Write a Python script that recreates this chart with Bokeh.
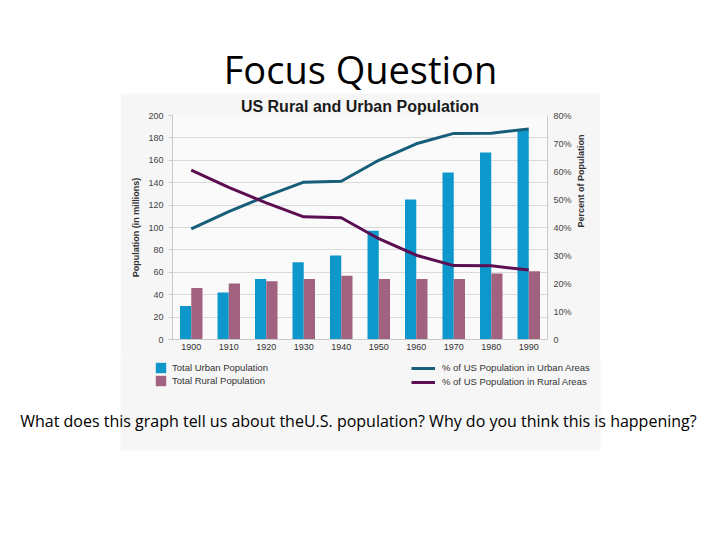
import math
from bokeh.plotting import figure
from bokeh.models import (Range1d, LinearAxis, Label, BoxAnnotation, Legend, LegendItem,
                          FixedTicker, ColumnDataSource, Spacer)
from bokeh.layouts import column, row
from bokeh.transform import dodge
from bokeh.embed import file_html
from bokeh.resources import INLINE

years = ["1900", "1910", "1920", "1930", "1940", "1950", "1960", "1970", "1980", "1990"]
urban_pop = [30, 42, 54, 69, 75, 97, 125, 149, 167, 187]
rural_pop = [46, 50, 52, 54, 57, 54, 54, 54, 59, 61]
urban_pct = [39.5, 45.7, 51.2, 56.2, 56.5, 64.0, 69.9, 73.6, 73.7, 75.2]
rural_pct = [60.5, 54.3, 48.8, 43.8, 43.5, 36.0, 30.1, 26.4, 26.3, 24.8]
left_ticks = [0, 20, 40, 60, 80, 100, 120, 140, 160, 180, 200]
right_ticks = [0, 10, 20, 30, 40, 50, 60, 70, 80]

URBAN_BAR = "#0e97cb"
RURAL_BAR = "#a0627f"
URBAN_LINE = "#175e7b"
RURAL_LINE = "#5b0f52"
IMG_BG = "#f6f6f6"
AXIS_FONT = "Liberation Sans"
SLIDE_FONT = "Open Sans"


def blank(width, height):
    f = figure(width=width, height=height, output_backend="svg", toolbar_location=None,
               x_axis_location=None, y_axis_location=None,
               x_range=Range1d(0, 1), y_range=Range1d(0, 1),
               min_border=0, min_border_left=0, min_border_right=0,
               min_border_top=0, min_border_bottom=0)
    f.grid.grid_line_color = None
    f.outline_line_color = None
    f.background_fill_color = "white"
    f.border_fill_color = "white"
    return f


# ---------- top: slide title ----------
top = blank(720, 93)
top.add_layout(Label(x=360, y=25, x_units="screen", y_units="screen",
                     text="Focus Question", text_align="center", text_baseline="middle",
                     text_font=SLIDE_FONT, text_font_size="38px", text_color="black"))

# ---------- middle: chart ----------
src = ColumnDataSource(dict(year=years, urban=urban_pop, rural=rural_pop,
                            upct=urban_pct, rpct=rural_pct))

p = figure(width=480, height=265, x_range=years, y_range=Range1d(0, 200),
           output_backend="svg", toolbar_location=None,
           title="US Rural and Urban Population",
           min_border_left=52, min_border_right=53, min_border_top=22, min_border_bottom=19)
p.background_fill_color = "#fafafa"
p.border_fill_color = IMG_BG
p.outline_line_color = None
p.title.align = "center"
p.title.text_font = AXIS_FONT
p.title.text_font_style = "bold"
p.title.text_font_size = "16px"
p.title.text_color = "#1a1a1a"
p.title.standoff = 2
p.title.offset = 2

p.extra_y_ranges = {"pct": Range1d(0, 80)}

p.xgrid.grid_line_color = None
p.ygrid.grid_line_color = "#dadada"
p.ygrid.ticker = FixedTicker(ticks=left_ticks)

ya = p.yaxis[0]
ya.ticker = FixedTicker(ticks=left_ticks)
ya.axis_label = "Population (in millions)"
ya.axis_label_text_font = AXIS_FONT
ya.axis_label_text_font_style = "bold"
ya.axis_label_text_font_size = "9px"
ya.axis_label_text_color = "#333333"
ya.axis_label_standoff = 4
ya.major_label_text_font = AXIS_FONT
ya.major_label_text_font_size = "9px"
ya.major_label_text_color = "#444444"
ya.major_label_standoff = 5
ya.axis_line_color = "#c8c8c8"
ya.major_tick_line_color = "#c8c8c8"
ya.major_tick_out = 4
ya.major_tick_in = 0
ya.minor_tick_line_color = None

ra = LinearAxis(y_range_name="pct", ticker=FixedTicker(ticks=right_ticks))
ra.major_label_overrides = {t: (f"{t}%" if t else "0") for t in right_ticks}
ra.axis_label = "Percent of Population"
ra.axis_label_text_font = AXIS_FONT
ra.axis_label_text_font_style = "bold"
ra.axis_label_text_font_size = "9px"
ra.axis_label_text_color = "#333333"
ra.axis_label_standoff = 6
if "axis_label_orientation" in ra.properties():
    ra.axis_label_orientation = math.pi / 2
ra.major_label_text_font = AXIS_FONT
ra.major_label_text_font_size = "9px"
ra.major_label_text_color = "#444444"
ra.major_label_standoff = 6
ra.axis_line_color = "#c8c8c8"
ra.major_tick_line_color = None
ra.major_tick_out = 0
ra.major_tick_in = 0
ra.minor_tick_line_color = None
p.add_layout(ra, "right")

xa = p.xaxis[0]
xa.major_label_text_font = AXIS_FONT
xa.major_label_text_font_size = "9px"
xa.major_label_text_color = "#333333"
xa.major_label_standoff = 4
xa.axis_line_color = "#c8c8c8"
xa.major_tick_line_color = None
xa.major_tick_out = 0
xa.major_tick_in = 0

p.vbar(x=dodge("year", -0.15, range=p.x_range), top="urban", width=0.3, source=src,
       fill_color=URBAN_BAR, line_color=None)
p.vbar(x=dodge("year", 0.15, range=p.x_range), top="rural", width=0.3, source=src,
       fill_color=RURAL_BAR, line_color=None)
p.line(x="year", y="upct", source=src, y_range_name="pct",
       line_color=URBAN_LINE, line_width=3)
p.line(x="year", y="rpct", source=src, y_range_name="pct",
       line_color=RURAL_LINE, line_width=3)

mid = row(Spacer(width=120, height=265), p, Spacer(width=120, height=265), spacing=0)

# ---------- bottom: legend + question ----------
bot = blank(720, 182)
bot.add_layout(BoxAnnotation(left=120, right=600, bottom=90, top=190,
                             left_units="screen", right_units="screen",
                             bottom_units="screen", top_units="screen",
                             fill_color=IMG_BG, fill_alpha=1.0, line_color=None,
                             level="image"))

# legend swatches: degenerate (invisible) marks that only carry each series' style
sw_u = bot.vbar(x=[0.5], top=[0], width=0, fill_color=URBAN_BAR, line_color=None)
sw_r = bot.vbar(x=[0.5], top=[0], width=0, fill_color=RURAL_BAR, line_color=None)
sw_lu = bot.line(x=[0.5], y=[0.5], line_color=URBAN_LINE, line_width=3)
sw_lr = bot.line(x=[0.5], y=[0.5], line_color=RURAL_LINE, line_width=3)


def make_legend(items, loc, gw, gh, sp, standoff):
    lg = Legend(items=items, location=loc, orientation="vertical",
                padding=0, margin=0, spacing=sp,
                glyph_width=gw, glyph_height=gh, label_height=10,
                label_standoff=standoff,
                label_text_font=AXIS_FONT, label_text_font_size="9.5px",
                label_text_color="#333333",
                border_line_alpha=0, background_fill_alpha=0)
    bot.add_layout(lg)


make_legend([LegendItem(label="Total Urban Population", renderers=[sw_u]),
             LegendItem(label="Total Rural Population", renderers=[sw_r])],
            (154, 153), 13, 13, 0, 5)
make_legend([LegendItem(label="% of US Population in Urban Areas", renderers=[sw_lu]),
             LegendItem(label="% of US Population in Rural Areas", renderers=[sw_lr])],
            (411, 153), 24, 10, 3, 7)

bot.add_layout(Label(x=360, y=120, x_units="screen", y_units="screen",
                     text="What does this graph tell us about theU.S. population?  Why do you think this is happening?",
                     text_align="center", text_baseline="middle",
                     text_font=SLIDE_FONT, text_font_size="16px", text_color="black"))

layout = column(top, mid, bot, spacing=0)
open("out.html", "w").write(file_html(layout, INLINE))
